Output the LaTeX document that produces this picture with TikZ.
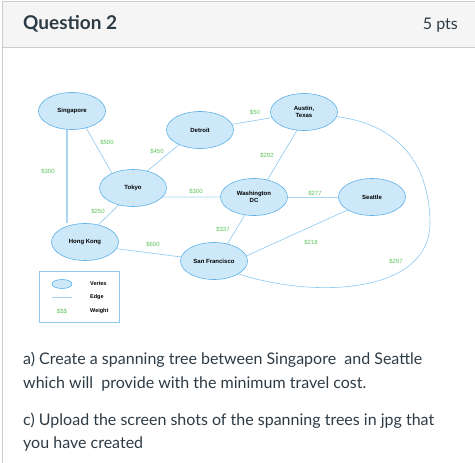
\documentclass[tikz,border=0pt]{standalone}
\usepackage{fontspec}
\setmainfont{Lato}
\newfontfamily\helv{Liberation Sans}
\definecolor{vfill}{HTML}{CDE9F9}
\definecolor{vline}{HTML}{5DB0E8}
\definecolor{eline}{HTML}{8CC8F0}
\definecolor{wgreen}{HTML}{5CC25C}
\definecolor{frame}{HTML}{C7CDD1}
\definecolor{band}{HTML}{F5F5F5}
\definecolor{ink}{HTML}{2D3B45}
\usetikzlibrary{shapes.geometric}
\pgfdeclarelayer{back}
\pgfsetlayers{back,main}
\begin{document}
\begin{tikzpicture}[x=1pt,y=-1pt,
  vertex/.style={ellipse,draw=vline,fill=vfill,line width=.6pt,minimum width=67pt,minimum height=37pt,inner sep=0pt,font=\helv\bfseries\fontsize{6}{7}\selectfont,align=center},
  weight/.style={text=wgreen,font=\helv\fontsize{6}{7}\selectfont,inner sep=0pt},
  link/.style={draw=eline,line width=.6pt},
  flat/.style={draw=eline!75,line width=.8pt},
  line/.style={anchor=base west,text=ink,font=\fontsize{16}{19}\selectfont,inner sep=0pt}]
\useasboundingbox (0,0) rectangle (475,463);
\fill[band] (2,1) rectangle (475,47);
\draw[frame,line width=.8pt] (475,1)--(2,1)--(2,463);
\draw[frame,line width=.8pt] (2,47)--(475,47);
\node[anchor=base west,text=ink,font=\bfseries\fontsize{19}{22}\selectfont,inner sep=0pt] (title) at (23,29) {Question 2};
\node[anchor=base east,text=ink,font=\fontsize{16}{19}\selectfont,inner sep=0pt] (pts) at (458,30) {5 pts};
% graph
\node[vertex] (sing) at (72,111) {Singapore};
\node[vertex] (det) at (200,130) {Detroit};
\node[vertex] (tok) at (133,188) {Tokyo};
\node[vertex] (aus) at (304,112) {Austin,\\Texas};
\node[vertex] (dc) at (254,197) {Washington\\DC};
\node[vertex] (sea) at (372,197) {Seattle};
\node[vertex] (hk) at (85,242) {Hong Kong};
\node[vertex] (sf) at (214,261) {San Francisco};
\begin{pgfonlayer}{back}
\draw[link] (sing.-50)--(tok.145);
\draw[flat,line width=1.2pt] (sing.255)--(sing.255|-hk.north);
\draw[link] (tok.50)--(det.-145);
\draw[flat] (tok.-17)--(dc.west);
\draw[link] (tok.-130)--(hk.52);
\draw[link] (hk.-12)--(sf.173);
\draw[link] (det.10)--(aus.-170);
\draw[link] (aus.-111)--(dc.52);
\draw[flat] (dc.east)--(sea.west);
\draw[link] (dc.-117)--(sf.52);
\draw[link] (sea.-152)--(sf.9);
\coordinate (bend) at (430,222);
\draw[link] (aus.-8) .. controls (395,124) and (429,160) .. (bend)
  .. controls (431,292) and (320,300) .. (sf.-28);
\end{pgfonlayer}
\node[weight] (w1) at (107,142) {\$500};
\node[weight] (w2) at (157,151) {\$450};
\node[weight] (w3) at (48,171) {\$300};
\node[weight] (w4) at (196,191) {\$300};
\node[weight] (w5) at (98,211) {\$250};
\node[weight] (w6) at (255,112) {\$50};
\node[weight] (w7) at (267,155) {\$292};
\node[weight] (w8) at (315,193) {\$277};
\node[weight] (w9) at (223,229) {\$337};
\node[weight] (w10) at (311,242) {\$218};
\node[weight] (w11) at (396,261) {\$297};
\node[weight] (w12) at (153,244) {\$600};
% legend
\draw[eline,line width=.6pt] (39,271) rectangle (119,322);
\node[vertex,minimum width=20pt,minimum height=9pt] (lv) at (62,284) {};
\coordinate (le1) at (52,297);
\coordinate (le2) at (72,297);
\draw[flat] (le1)--(le2);
\node[weight] (lw) at (62,311) {\$\$\$};
\node[anchor=west,inner sep=0pt,font=\helv\bfseries\fontsize{5.5}{6}\selectfont] (lt1) at (90,284) {Vertex};
\node[anchor=west,inner sep=0pt,font=\helv\bfseries\fontsize{5.5}{6}\selectfont] (lt2) at (90,297) {Edge};
\node[anchor=west,inner sep=0pt,font=\helv\bfseries\fontsize{5.5}{6}\selectfont] (lt3) at (90,311) {Weight};
% question text
\node[line] (q1) at (23,364) {a) Create a spanning tree between Singapore\ \ and Seattle};
\node[line] (q2) at (23,388) {which will\ \ provide with the minimum travel cost.};
\node[line] (q3) at (23,425) {c) Upload the screen shots of the spanning trees in jpg that};
\node[line] (q4) at (23,448) {you have created};
\end{tikzpicture}
\end{document}
